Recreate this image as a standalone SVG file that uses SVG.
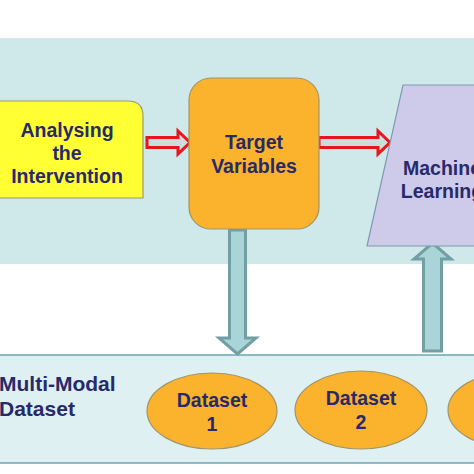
<svg xmlns="http://www.w3.org/2000/svg" width="474" height="474" viewBox="0 0 474 474">
<style>
.t{font-family:"Liberation Sans",Arial,sans-serif;font-weight:bold;font-size:19.5px;fill:#28296b;text-anchor:middle}
.red{fill:#cadede;stroke:#e8141e;stroke-width:3;stroke-linejoin:miter}
.teal{fill:#a9d5d8;stroke:#739ea3;stroke-width:3}
</style>
<rect x="0" y="0" width="474" height="474" fill="#ffffff"/>
<rect id="top-band" x="0" y="38" width="474" height="226" fill="#cfe9ea"/>
<rect id="bottom-band" x="-2" y="355" width="478" height="108" fill="#dff0f3" stroke="#6aa8b4" stroke-width="1.5"/>
<g id="connectors">
<path class="red" d="M147,137.5 H178 V131 L190,142.5 L178,154 V147.5 H147 Z"/>
<path class="red" d="M319,137.5 H378 V131 L390,142.5 L378,154 V147.5 H319 Z"/>
<path class="teal" d="M229.5,230 H245.5 V338 H256 L237.5,354 L219,338 H229.5 Z"/>
<path class="teal" d="M423.5,351 H441.5 V259 H451 L432.5,243 L414,259 H423.5 Z"/>
</g>
<g id="analysing">
<path d="M-20,101 H128 Q143,101 143,116 V198 H-20 Z" fill="#ffff33" stroke="#9a9a70" stroke-width="1.2"/>
<text class="t" x="67" y="137">Analysing</text>
<text class="t" x="67" y="160">the</text>
<text class="t" x="67" y="183">Intervention</text>
</g>
<g id="target">
<rect x="189" y="78" width="130" height="151" rx="22" ry="22" fill="#fbb22c" stroke="#a39468" stroke-width="1.2"/>
<text class="t" x="254" y="149">Target</text>
<text class="t" x="254" y="173">Variables</text>
</g>
<g id="ml">
<path d="M403,85 H480 V246 H367 Z" fill="#cdcaea" stroke="#7f99ad" stroke-width="1.2"/>
<text class="t" x="442" y="175">Machine</text>
<text class="t" x="442" y="198">Learning</text>
</g>
<g id="multimodal">
<text class="t" x="-1" y="391" style="text-anchor:start;font-size:21px">Multi-Modal</text>
<text class="t" x="-1" y="416" style="text-anchor:start;font-size:21px">Dataset</text>
</g>
<g id="dataset1">
<ellipse cx="212" cy="411" rx="65" ry="38" fill="#fbb22c" stroke="#a39468" stroke-width="1.2"/>
<text class="t" x="212" y="407">Dataset</text>
<text class="t" x="212" y="431">1</text>
</g>
<g id="dataset2">
<ellipse cx="361" cy="410" rx="66" ry="39" fill="#fbb22c" stroke="#a39468" stroke-width="1.2"/>
<text class="t" x="361" y="405">Dataset</text>
<text class="t" x="361" y="429">2</text>
</g>
<g id="dataset3">
<ellipse cx="513" cy="410" rx="65" ry="38" fill="#fbb22c" stroke="#a39468" stroke-width="1.2"/>
</g>
</svg>
